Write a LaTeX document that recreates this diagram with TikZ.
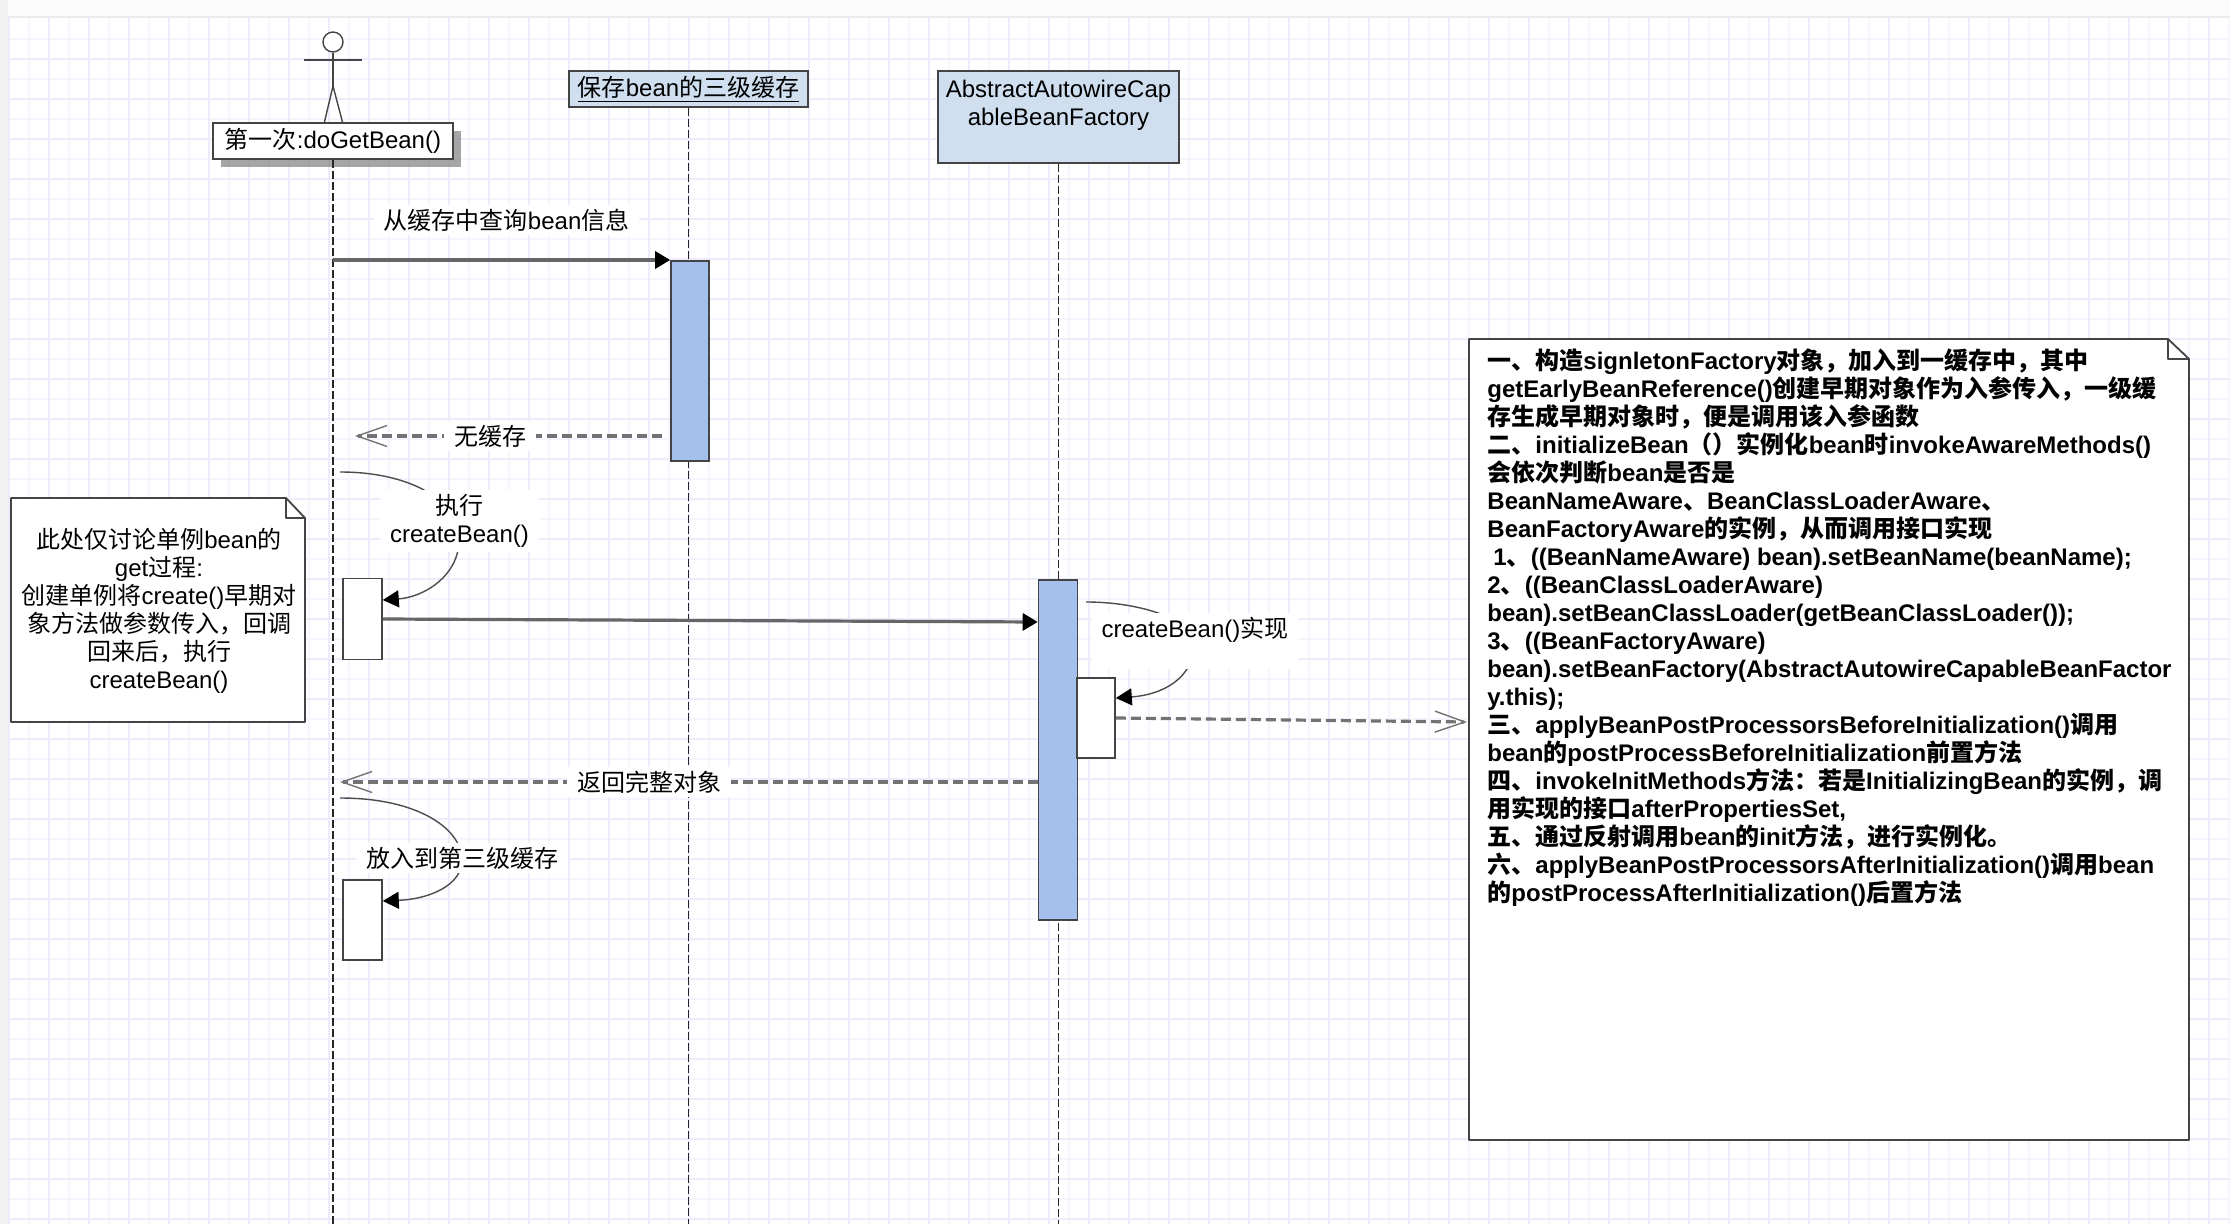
\documentclass[tikz,border=0pt]{standalone}
\usepackage{fontspec}
\setmainfont{Liberation Sans}
\newfontfamily\latinfam{Liberation Sans}
\newfontfamily\cjk{Noto Sans CJK SC}
\usetikzlibrary{arrows.meta,positioning,shapes.geometric,shadows}
\definecolor{gridmajor}{RGB}{236,236,253}
\definecolor{gridminor}{RGB}{245,245,254}
\definecolor{headblue}{RGB}{207,223,240}
\definecolor{activeblue}{RGB}{166,192,238}
\definecolor{edgegray}{RGB}{68,68,68}
% switch between the Latin and the CJK font inside one text
\XeTeXinterchartokenstate=1
\newXeTeXintercharclass\cjkclass
\newcount\cjkchar
\newcommand\markcjk[2]{\cjkchar=#1 \loop\XeTeXcharclass\cjkchar=\cjkclass
  \ifnum\cjkchar<#2 \advance\cjkchar by 1 \repeat}
\markcjk{"3000}{"303F}
\markcjk{"4E00}{"9FFF}
\markcjk{"FF00}{"FFEF}
\XeTeXinterchartoks 0 \cjkclass={\cjk}
\XeTeXinterchartoks 4095 \cjkclass={\cjk}
\XeTeXinterchartoks \cjkclass 0={\latinfam}
\XeTeXinterchartoks \cjkclass 4095={\latinfam}

\begin{document}
\begin{tikzpicture}[
  x=0.5pt, y=-0.5pt,
  txt/.style={font=\fontsize{12}{14}\selectfont},
  headbox/.style={rectangle, draw=edgegray, line width=.9pt, fill=headblue, inner sep=0pt,
                  align=center, txt},
  namebox/.style={headbox, fill=white, minimum width=120pt, minimum height=18pt,
                  drop shadow={shadow xshift=4pt, shadow yshift=-4pt, fill=gray, opacity=.7}},
  active/.style={rectangle, draw=edgegray, line width=.8pt, fill=activeblue, inner sep=0pt},
  selfbox/.style={active, fill=white},
  lifeline/.style={dashed, dash pattern=on 4pt off 1.5pt, line width=.7pt, color=black!85},
  msg/.style={-{Triangle[length=7.5pt,width=8.5pt,color=black]}, line width=1.6pt, color=black!60},
  ret/.style={-{Straight Barb[length=15pt,width=10.5pt,line width=.7pt]}, dashed,
              dash pattern=on 5pt off 2.5pt, line width=1.6pt, color=black!55},
  selfcall/.style={-{Triangle[length=8pt,width=8.5pt,color=black]}, line width=.7pt, color=black!70},
  msglabel/.style={fill=white, inner xsep=5pt, inner ysep=2pt, align=center, txt, text=black},
  notepaper/.style={draw=edgegray, line width=.9pt, fill=white, line join=round},
  stick/.style={line width=.7pt, color=edgegray}
]
  \useasboundingbox (0,0) rectangle (2230,1224);
  \fill[white] (0,0) rectangle (2230,1224);
  \fill[black!5] (0,0) rectangle (8,1224);
  \fill[black!1] (8,0) rectangle (2230,16);
  \fill[black!8] (8,16) rectangle (2230,18);

  % grid
  \foreach \gx in {29,69,...,2229} \draw[gridminor, line width=.6pt] (\gx,18) -- (\gx,1224);
  \foreach \gy in {39,79,...,1224} \draw[gridminor, line width=.6pt] (8,\gy) -- (2230,\gy);
  \foreach \gx in {9,49,...,2229} \draw[gridmajor, line width=1pt] (\gx,18) -- (\gx,1224);
  \foreach \gy in {59,99,...,1224} \draw[gridmajor, line width=1pt] (8,\gy) -- (2230,\gy);

  % actor
  \node[ellipse, draw=edgegray, line width=.7pt, fill=white, minimum width=10pt, minimum height=10pt,
        inner sep=0pt] (head) at (333,42) {};
  \coordinate (hip) at (333,86);
  \coordinate (handL) at (304,60);
  \coordinate (handR) at (362,60);
  \coordinate (footL) at (324,124);
  \coordinate (footR) at (343,124);
  \draw[stick] (head) -- (hip);
  \draw[stick, line width=1.1pt] (handL) -- (handR);
  \draw[stick] (footL) -- (hip) -- (footR);

  % lifeline heads
  \node[namebox] (first) at (333,141) {第一次:doGetBean()};
  \node[headbox, minimum width=119.5pt, minimum height=18pt] (cache) at (688.5,89) {\underline{保存bean的三级缓存}};
  \node[headbox, minimum width=120.5pt, minimum height=46pt] (factory) at (1058.5,117) {AbstractAutowireCap\\ableBeanFactory\\~};

  \draw[lifeline] (first) -- (first |- 0,1224);
  \draw[lifeline] (cache) -- (cache |- 0,1224);
  \draw[lifeline] (factory) -- (factory |- 0,1224);

  % activations
  \node[active, minimum width=19pt, minimum height=100pt] (cacheAct) at (690,361) {};
  \node[selfbox, minimum width=19.5pt, minimum height=40.5pt] (execAct) at (362.5,619) {};
  \node[selfbox, minimum width=19.5pt, minimum height=40pt] (putAct) at (362.5,920) {};
  \node[active, minimum width=19.5pt, minimum height=170pt] (factoryAct) at (1058,750) {};
  \node[selfbox, minimum width=19pt, minimum height=40pt] (implAct) at (1096,718) {};

  % notes
  \draw[notepaper] (11,498) -- (286,498) -- (305,518) -- (305,722) -- (11,722) -- cycle;
  \draw[notepaper, fill=none] (286,498) -- (286,518) -- (305,518);
  \node[txt, align=center, inner sep=0pt] (scopeNote) at (159,611)
    {此处仅讨论单例bean的\\get过程:\\创建单例将create()早期对\\象方法做参数传入，回调\\回来后，执行\\createBean()};

  \draw[notepaper] (1469,339) -- (2168,339) -- (2189,359) -- (2189,1140) -- (1469,1140) -- cycle;
  \draw[notepaper, fill=none] (2168,339) -- (2168,359) -- (2189,359);
  \node[txt, font=\fontsize{12}{14}\selectfont\bfseries, align=left, anchor=north west, inner sep=0pt] (stepNote) at (1487,348)
    {一、构造signletonFactory对象，加入到一缓存中，其中\\
     getEarlyBeanReference()创建早期对象作为入参传入，一级缓\\
     存生成早期对象时，便是调用该入参函数\\
     二、initializeBean（）实例化bean时invokeAwareMethods()\\
     会依次判断bean是否是\\
     BeanNameAware、BeanClassLoaderAware、\\
     BeanFactoryAware的实例，从而调用接口实现\\
     \hspace{3pt}1、((BeanNameAware) bean).setBeanName(beanName);\\
     2、((BeanClassLoaderAware)\\
     bean).setBeanClassLoader(getBeanClassLoader());\\
     3、((BeanFactoryAware)\\
     bean).setBeanFactory(AbstractAutowireCapableBeanFactor\\
     y.this);\\
     三、applyBeanPostProcessorsBeforeInitialization()调用\\
     bean的postProcessBeforeInitialization前置方法\\
     四、invokeInitMethods方法：若是InitializingBean的实例，调\\
     用实现的接口afterPropertiesSet,\\
     五、通过反射调用bean的init方法，进行实例化。\\
     六、applyBeanPostProcessorsAfterInitialization()调用bean\\
     的postProcessAfterInitialization()后置方法};
  \coordinate (noteIn) at (1467,722);

  % messages
  \draw[msg] (first |- 0,260) -- node[msglabel, pos=.515, yshift=20pt] (queryLabel) {从缓存中查询bean信息} (cacheAct.west |- 0,260);
  \draw[ret] ([xshift=-4pt]cacheAct.west |- 0,436) -- node[msglabel, pos=.56] (missLabel) {无缓存} ([xshift=11pt]first.center |- 0,436);
  \draw[msg] (execAct.east |- 0,619) -- (factoryAct.west |- 0,622);
  \draw[ret] (factoryAct.west |- 0,782) -- node[msglabel, pos=.557] (backLabel) {返回完整对象} ([xshift=3.5pt]first.center |- 0,782);
  \draw[ret] (implAct.east |- 0,718) -- (noteIn);

  % self calls
  \coordinate (execStart) at (340,472);
  \coordinate (putStart) at (340,798);
  \coordinate (implStart) at (1086,602);
  \draw[selfcall] (execStart) .. controls (410,472) and (459,500) .. (459,540)
    .. controls (459,575) and (425,597) .. (execAct.east |- 0,600);
  \draw[selfcall] (putStart) .. controls (420,798) and (462,830) .. (462,860)
    .. controls (462,885) and (430,899) .. (putAct.east |- 0,901);
  \draw[selfcall] (implStart) .. controls (1150,602) and (1195,625) .. (1195,640)
    .. controls (1195,680) and (1160,695) .. (implAct.east |- 0,698);
  \node[msglabel, minimum width=75.5pt] (execLabel) at (459.5,521) {执行\\createBean()};
  \node[msglabel] (putLabel) at (462,858) {放入到第三级缓存};
  \node[msglabel, minimum width=99pt] (implLabel) at (1195,641) {createBean()实现\\~};
\end{tikzpicture}
\end{document}
